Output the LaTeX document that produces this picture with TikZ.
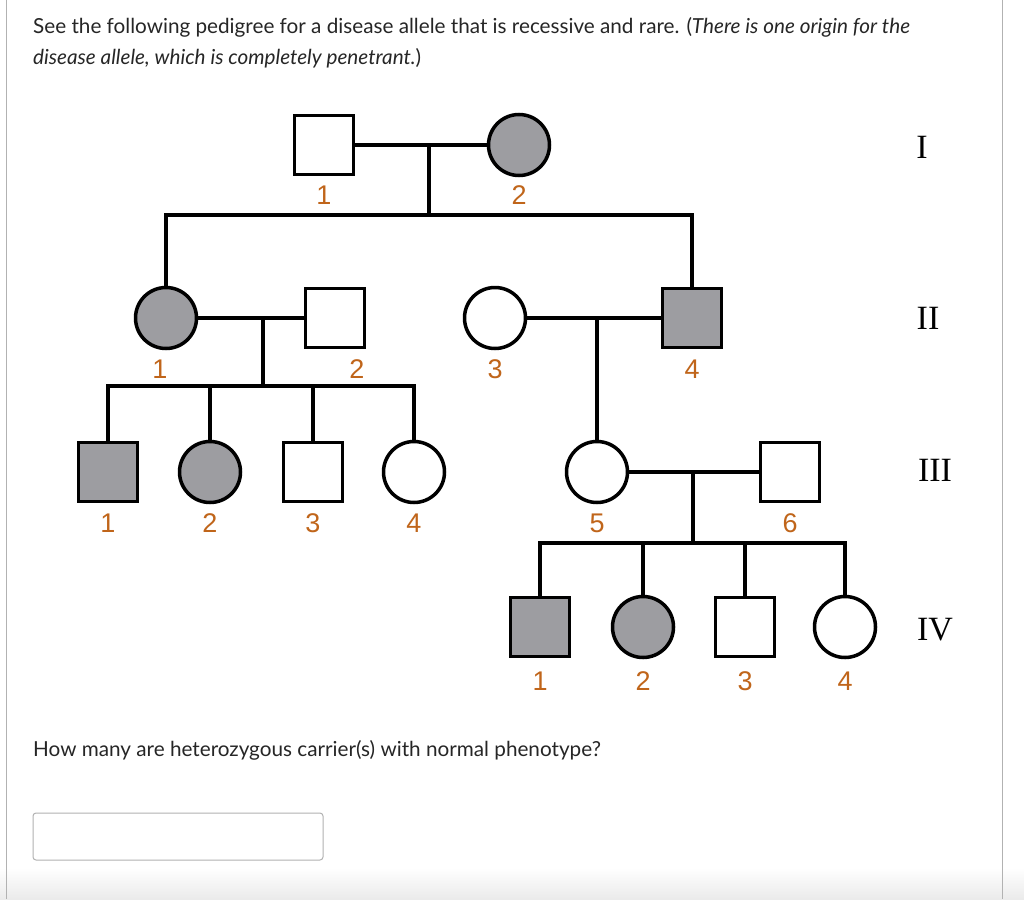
\documentclass[tikz,border=0pt]{standalone}
\usepackage{fontspec}
\setmainfont{Lato}
\newfontfamily\arialf{Liberation Sans}
\newfontfamily\timesf{Liberation Serif}
\definecolor{lbl}{HTML}{C0651A}
\definecolor{aff}{HTML}{9D9DA1}
\begin{document}
\begin{tikzpicture}[x=1pt,y=-1pt,
  ln/.style={line width=3.5pt},
  male/.style={draw,line width=3.5pt,minimum size=59pt,inner sep=0pt,fill=white},
  fem/.style={draw,circle,line width=3.5pt,minimum size=61pt,inner sep=0pt,fill=white},
  af/.style={fill=aff},
  num/.style={font=\arialf\fontsize{27}{27}\selectfont,text=lbl},
  gen/.style={font=\timesf\fontsize{34}{34}\selectfont},
  txt/.style={anchor=west,inner sep=0pt,font=\fontsize{20.7}{22}\selectfont,text=black!85}]
\useasboundingbox (0,0) rectangle (1024,899);
\fill[white] (0,0) rectangle (1024,899);
\shade[top color=white,bottom color=black!8] (0,868) rectangle (1024,899);
\draw[black!30,line width=1pt] (6,0) -- (6,899) (1002,0) -- (1002,899);
\node[txt] (t1) at (33,27) {See the following pedigree for a disease allele that is recessive and rare. (\textit{There is one origin for the}};
\node[txt] (t2) at (33,58) {\textit{disease allele, which is completely penetrant.})};
\node[txt] (q) at (33,750) {How many are heterozygous carrier(s) with normal phenotype?};
\draw[black!30,line width=1pt,rounded corners=3pt,fill=white] (33,813) rectangle (323,860);
% Gen I
\node[male] (I1) at (324,145) {};
\node[fem,af] (I2) at (519,145) {};
% Gen II
\node[fem,af] (II1) at (166,318) {};
\node[male] (II2) at (335,318) {};
\node[fem] (II3) at (495,318) {};
\node[male,af] (II4) at (692,318) {};
% Gen III
\node[male,af] (III1) at (108,472) {};
\node[fem,af] (III2) at (210,472) {};
\node[male] (III3) at (313,472) {};
\node[fem] (III4) at (414,472) {};
\node[fem] (III5) at (597,472) {};
\node[male] (III6) at (790,472) {};
% Gen IV
\node[male,af] (IV1) at (540,627) {};
\node[fem,af] (IV2) at (643,627) {};
\node[male] (IV3) at (745,627) {};
\node[fem] (IV4) at (845,627) {};
% connectors
\coordinate (m1) at (429,145); \coordinate (s1) at (429,215);
\draw[ln] (I1) -- (I2);
\draw[ln] (m1) -- (s1);
\draw[ln] (II1.north) |- (s1) -| (II4.north);
\coordinate (m2) at (263,318); \coordinate (s2) at (263,386);
\draw[ln] (II1) -- (II2);
\draw[ln] (m2) -- (s2);
\draw[ln] (III1.north) |- (s2) -| (III4.north);
\draw[ln] (III2.north) -- (III2.north |- s2);
\draw[ln] (III3.north) -- (III3.north |- s2);
\draw[ln] (II3) -- (II4);
\draw[ln] (III5.north) -- (III5.north |- II3);
\coordinate (m3) at (693,472); \coordinate (s3) at (693,543);
\draw[ln] (III5) -- (III6);
\draw[ln] (m3) -- (s3);
\draw[ln] (IV1.north) |- (s3) -| (IV4.north);
\draw[ln] (IV2.north) -- (IV2.north |- s3);
\draw[ln] (IV3.north) -- (IV3.north |- s3);
% labels
\node[num] (lI1) at (324,195) {1}; \node[num] (lI2) at (519,195) {2};
\node[num] (lII1) at (160,369) {1}; \node[num] (lII2) at (357,369) {2};
\node[num] (lII3) at (495,369) {3}; \node[num] (lII4) at (692,369) {4};
\node[num] (lIII1) at (108,523) {1}; \node[num] (lIII2) at (210,523) {2};
\node[num] (lIII3) at (313,523) {3}; \node[num] (lIII4) at (414,523) {4};
\node[num] (lIII5) at (597,523) {5}; \node[num] (lIII6) at (790,523) {6};
\node[num] (lIV1) at (540,681) {1}; \node[num] (lIV2) at (643,681) {2};
\node[num] (lIV3) at (745,681) {3}; \node[num] (lIV4) at (845,681) {4};
\node[gen] (gI) at (922,147) {I};
\node[gen] (gII) at (928,318) {II};
\node[gen] (gIII) at (935,470) {III};
\node[gen] (gIV) at (935,630) {IV};
\end{tikzpicture}
\end{document}
